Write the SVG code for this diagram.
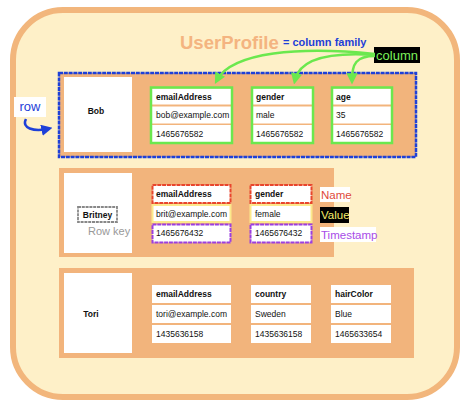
<svg xmlns="http://www.w3.org/2000/svg" width="474" height="409" viewBox="0 0 474 409">
<defs>
<style>
.t{font-family:"Liberation Sans",Arial,sans-serif;font-size:8.5px;fill:#111}
.b{font-weight:bold}
.cell{fill:#fff}
.row{fill:#F2B47C}
.key{fill:#fff}
.grn{fill:none;stroke:#6BE84E;stroke-width:2.5}
.nm{fill:#fff;stroke:#E8452C;stroke-width:2;stroke-dasharray:4 0.8}
.vl{fill:#fff;stroke:#FCE98C;stroke-width:2}
.ts{fill:#fff;stroke:#9B3FE0;stroke-width:2;stroke-dasharray:4 0.8}
</style>
<marker id="ag" viewBox="0 0 10 10" refX="6" refY="5" markerWidth="4.5" markerHeight="4.5" orient="auto">
<path d="M0,0 L10,5 L0,10 z" fill="#6BE84E"/>
</marker>
<marker id="ab" viewBox="0 0 10 10" refX="5" refY="5" markerWidth="4.5" markerHeight="4.5" orient="auto">
<path d="M0,0 L10,5 L0,10 z" fill="#1E40D8"/>
</marker>
</defs>
<rect width="474" height="409" fill="#fff"/>
<g id="columnfamily">
<rect x="13" y="10" width="444" height="387" rx="50" fill="#FEF0C8" stroke="#F2B67C" stroke-width="6"/>
<text x="180" y="49" font-family="Liberation Sans,Arial,sans-serif" font-size="18.5" font-weight="bold" fill="#F4B480">UserProfile</text>
<text x="283" y="46" font-family="Liberation Sans,Arial,sans-serif" font-size="11" font-weight="bold" fill="#1E40D8">= column family</text>
</g>
<g id="column-label">
<rect x="374" y="47" width="46" height="16" fill="#000"/>
<text x="397" y="59.5" text-anchor="middle" font-family="Liberation Sans,Arial,sans-serif" font-size="13" fill="#7CF05A">column</text>
</g>
<g id="row-label">
<rect x="14" y="97" width="32" height="20" fill="#fff"/>
<text x="30" y="111" text-anchor="middle" font-family="Liberation Sans,Arial,sans-serif" font-size="13" fill="#1E40D8">row</text>
</g>
<g id="row-bob">
<rect x="59" y="73" width="357" height="84" class="row" stroke="#1E40D8" stroke-width="2.5" stroke-dasharray="4 0.8"/>
<rect x="64" y="77" width="68" height="75" class="key"/>
<text x="96" y="114" text-anchor="middle" class="t b">Bob</text>
<g id="bob-email">
<rect x="152" y="88.5" width="79" height="16" class="cell"/>
<rect x="152" y="106.5" width="79" height="17" class="cell"/>
<rect x="152" y="125" width="79" height="17" class="cell"/>
<rect x="151" y="87.5" width="81" height="55.5" class="grn"/>
<text x="156" y="100" class="t b">emailAddress</text>
<text x="156" y="118" class="t">bob@example.com</text>
<text x="156" y="137" class="t">1465676582</text>
</g>
<g id="bob-gender">
<rect x="253" y="88.5" width="59" height="16" class="cell"/>
<rect x="253" y="106.5" width="59" height="17" class="cell"/>
<rect x="253" y="125" width="59" height="17" class="cell"/>
<rect x="252" y="87.5" width="61" height="55.5" class="grn"/>
<text x="256" y="100" class="t b">gender</text>
<text x="256" y="118" class="t">male</text>
<text x="256" y="137" class="t">1465676582</text>
</g>
<g id="bob-age">
<rect x="333" y="88.5" width="58" height="16" class="cell"/>
<rect x="333" y="106.5" width="58" height="17" class="cell"/>
<rect x="333" y="125" width="58" height="17" class="cell"/>
<rect x="332" y="87.5" width="60" height="55.5" class="grn"/>
<text x="336" y="100" class="t b">age</text>
<text x="336" y="118" class="t">35</text>
<text x="336" y="137" class="t">1465676582</text>
</g>
</g>
<g id="row-britney">
<rect x="59" y="168" width="275" height="89" class="row"/>
<rect x="64" y="173" width="68" height="80" class="key"/>
<rect x="78" y="207" width="39" height="15" fill="#fff" stroke="#888" stroke-width="1.8" stroke-dasharray="3 0.8"/>
<text x="97.5" y="217.5" text-anchor="middle" class="t b">Britney</text>
<text x="88" y="235" font-family="Liberation Sans,Arial,sans-serif" font-size="11" fill="#999">Row key</text>
<g id="britney-email">
<rect x="152.5" y="185" width="78" height="18" class="nm"/>
<rect x="152.5" y="205" width="78" height="17" class="vl"/>
<rect x="152.5" y="224.5" width="78" height="18" class="ts"/>
<text x="156" y="197" class="t b">emailAddress</text>
<text x="156" y="216.5" class="t">brit@example.com</text>
<text x="156" y="236" class="t">1465676432</text>
</g>
<g id="britney-gender">
<rect x="250.5" y="185" width="61" height="18" class="nm"/>
<rect x="250.5" y="205" width="61" height="17" class="vl"/>
<rect x="250.5" y="224.5" width="61" height="18" class="ts"/>
<text x="255" y="197" class="t b">gender</text>
<text x="255" y="216.5" class="t">female</text>
<text x="255" y="236" class="t">1465676432</text>
</g>
</g>
<g id="legend">
<rect x="320" y="187" width="30" height="15" fill="#fff"/>
<text x="321" y="198.5" font-family="Liberation Sans,Arial,sans-serif" font-size="11.5" fill="#E04A3A">Name</text>
<rect x="320" y="207" width="29" height="16" fill="#000"/>
<text x="321" y="219" font-family="Liberation Sans,Arial,sans-serif" font-size="11.5" fill="#F6EC6A">Value</text>
<rect x="320" y="227" width="56" height="15" fill="#fff"/>
<text x="321" y="238.5" font-family="Liberation Sans,Arial,sans-serif" font-size="11.5" fill="#A84CE8">Timestamp</text>
</g>
<g id="row-tori">
<rect x="59" y="268" width="355" height="90" class="row"/>
<rect x="64" y="273" width="68" height="80" class="key"/>
<text x="91" y="317" text-anchor="middle" class="t b">Tori</text>
<g id="tori-email">
<rect x="152" y="285" width="79" height="18" class="cell"/>
<rect x="152" y="305" width="79" height="18" class="cell"/>
<rect x="152" y="325" width="79" height="18" class="cell"/>
<text x="156" y="297" class="t b">emailAddress</text>
<text x="156" y="317" class="t">tori@example.com</text>
<text x="156" y="337" class="t">1435636158</text>
</g>
<g id="tori-country">
<rect x="251" y="285" width="60" height="18" class="cell"/>
<rect x="251" y="305" width="60" height="18" class="cell"/>
<rect x="251" y="325" width="60" height="18" class="cell"/>
<text x="255" y="297" class="t b">country</text>
<text x="255" y="317" class="t">Sweden</text>
<text x="255" y="337" class="t">1435636158</text>
</g>
<g id="tori-haircolor">
<rect x="331" y="285" width="60" height="18" class="cell"/>
<rect x="331" y="305" width="60" height="18" class="cell"/>
<rect x="331" y="325" width="60" height="18" class="cell"/>
<text x="335" y="297" class="t b">hairColor</text>
<text x="335" y="317" class="t">Blue</text>
<text x="335" y="337" class="t">1465633654</text>
</g>
</g>
<g id="connectors" fill="none">
<path d="M375 54 C300 46 232 52 217 80" stroke="#6BE84E" stroke-width="2.5" marker-end="url(#ag)"/>
<path d="M375 55 C330 52 300 58 295 80" stroke="#6BE84E" stroke-width="2.5" marker-end="url(#ag)"/>
<path d="M375 56 C356 56 352 64 352 80" stroke="#6BE84E" stroke-width="2.5" marker-end="url(#ag)"/>
<path d="M26 119 C21 128 34 132 47 129" stroke="#1E40D8" stroke-width="2.5" marker-end="url(#ab)"/>
</g>
</svg>
